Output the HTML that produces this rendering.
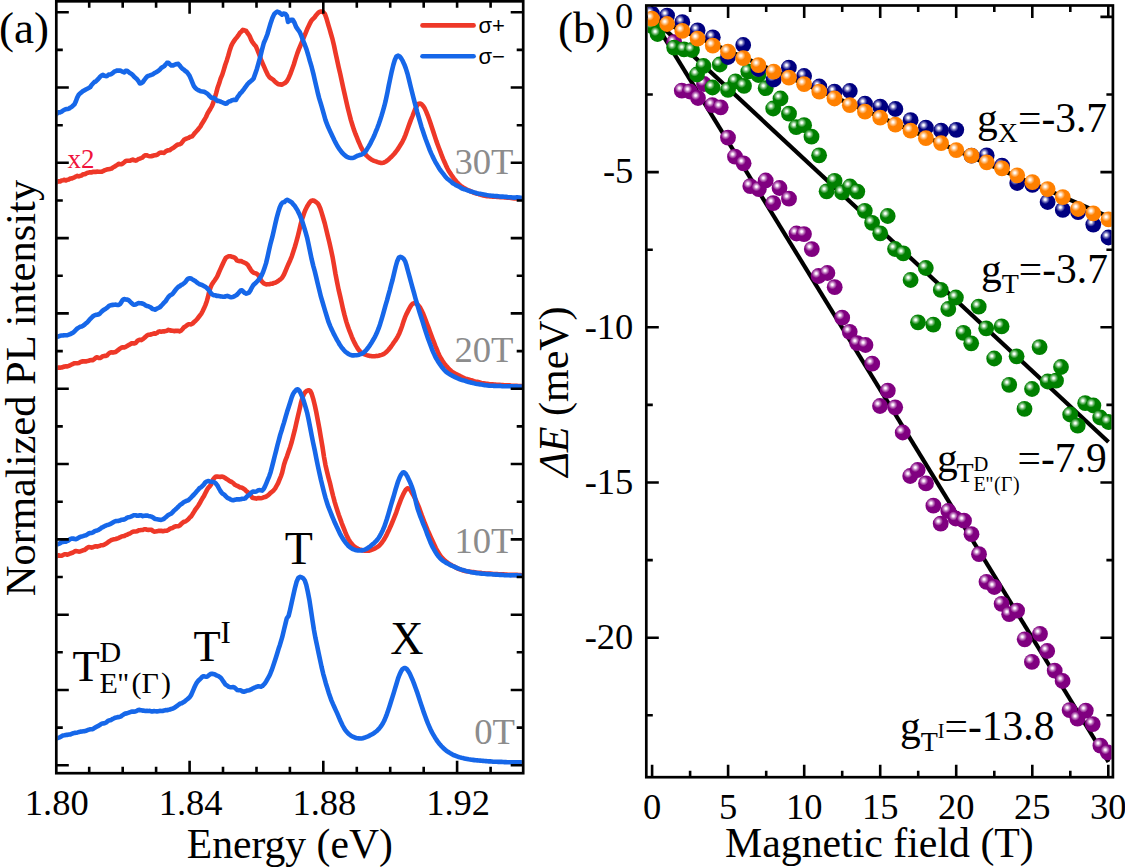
<!DOCTYPE html>
<html><head><meta charset="utf-8"><title>Figure</title>
<style>html,body{margin:0;padding:0;background:#fff;}svg{display:block;font-family:"Liberation Serif",serif;}</style>
</head><body>
<svg width="1125" height="867" viewBox="0 0 1125 867" font-family='"Liberation Serif", serif'><defs><clipPath id="cpa"><rect x="57.5" y="2.6" width="464.4" height="769.4"/></clipPath></defs>
<g fill="none" stroke-width="4.6" stroke-linejoin="round" stroke-linecap="round" clip-path="url(#cpa)">
<path d="M56.3 182.4L57.2 181.9L58.5 181.3L60.0 181.5L61.6 180.5L63.1 180.2L64.5 179.8L65.9 180.5L67.4 179.7L68.8 179.4L70.2 178.6L71.6 178.5L73.1 177.9L74.5 177.3L75.9 176.5L77.3 175.9L78.8 176.4L80.2 175.9L81.6 175.5L83.0 174.4L84.4 174.3L85.9 173.8L87.3 172.7L88.7 172.6L90.1 172.3L91.6 172.4L93.0 171.7L94.4 171.9L95.8 171.9L97.2 171.6L98.7 171.7L100.1 171.7L101.5 171.8L102.9 171.2L104.4 170.4L105.8 169.9L107.2 169.4L108.6 169.3L110.0 168.9L111.5 168.6L112.9 167.5L114.3 166.8L115.7 165.8L117.2 165.0L118.6 163.9L120.0 164.1L121.4 164.2L122.8 163.4L124.3 162.2L125.7 161.0L127.1 160.7L128.5 160.7L130.0 160.8L131.4 160.1L132.8 159.5L134.2 160.3L135.6 160.6L137.1 160.0L138.5 159.0L139.9 158.6L141.3 158.0L142.8 157.3L144.2 155.8L145.6 155.2L147.0 155.4L148.4 156.0L149.9 156.2L151.3 156.1L152.7 155.9L154.1 155.3L155.6 155.2L157.0 154.8L158.4 153.8L159.8 152.7L161.2 152.6L162.7 152.8L164.1 152.9L165.5 151.6L166.9 150.8L168.4 150.3L169.8 150.1L171.2 149.0L172.6 148.3L174.0 147.3L175.5 146.2L176.9 145.0L178.3 144.5L179.7 144.3L181.2 143.5L182.6 141.6L184.0 139.8L185.5 139.0L187.1 138.4L188.7 137.9L190.1 136.8L191.1 136.7L192.2 136.3L193.2 135.1L194.5 133.4L196.0 131.8L197.6 130.0L199.1 128.1L200.5 126.3L201.8 123.9L203.2 121.7L204.6 119.5L206.0 117.0L207.4 113.8L208.9 111.3L210.3 109.0L211.7 106.5L212.9 103.8L214.6 98.5L216.1 93.4L217.5 88.1L219.1 83.6L220.6 78.7L222.2 74.9L223.7 70.1L225.2 65.0L226.8 60.4L228.2 55.9L229.7 50.5L231.4 45.6L232.7 43.0L234.1 40.9L235.6 38.7L237.0 37.2L238.3 35.4L240.0 32.7L241.5 31.4L242.9 29.9L244.5 30.3L246.2 31.0L247.5 33.0L248.9 34.8L250.0 36.9L251.1 39.6L252.3 41.9L254.0 44.2L255.8 46.2L257.5 50.1L259.2 54.4L261.0 59.6L262.7 63.6L264.4 67.4L266.1 71.3L267.9 75.0L269.6 77.3L271.3 78.5L273.1 79.6L274.8 81.5L276.5 82.9L278.2 84.2L280.0 84.4L281.7 84.6L283.4 83.8L285.2 82.9L286.9 81.1L288.6 78.1L290.3 74.1L292.1 69.3L293.8 64.5L295.5 58.9L297.3 53.4L299.0 48.9L300.7 44.8L302.4 40.8L304.2 36.4L305.9 32.3L307.6 28.2L309.4 24.4L311.1 21.1L312.8 19.1L314.6 17.3L316.1 15.2L317.8 13.3L319.2 12.1L320.4 11.5L321.5 11.5L323.1 11.9L324.9 14.0L326.6 18.8L328.4 25.1L329.7 29.4L331.0 34.0L332.5 39.2L334.0 45.5L335.5 52.8L337.1 60.0L338.6 67.0L340.2 73.8L341.7 80.8L343.2 87.8L344.8 94.8L346.3 101.5L347.8 107.9L349.4 114.2L350.9 120.1L352.4 125.0L353.8 129.4L355.5 134.0L356.8 137.1L358.1 140.5L359.6 143.9L361.0 147.1L362.5 149.8L363.8 152.1L365.2 154.1L366.6 155.6L368.0 156.9L369.4 158.1L370.8 159.1L372.2 160.0L373.5 160.6L374.9 161.1L376.3 161.5L377.7 162.1L379.1 162.5L380.5 162.9L381.8 163.0L383.2 162.8L384.6 162.2L386.0 161.5L387.4 160.4L388.8 159.2L390.2 157.9L391.5 156.7L392.9 155.2L394.3 153.7L395.7 152.0L397.1 150.1L398.5 148.1L399.8 146.0L401.2 143.8L402.6 141.3L404.0 138.5L405.4 135.1L406.8 131.2L408.2 127.3L409.6 123.4L410.9 119.9L412.5 116.0L414.0 112.1L415.4 108.7L416.7 106.2L418.5 103.7L420.2 103.5L421.6 104.3L423.2 106.1L424.8 108.6L426.2 111.6L427.7 115.3L429.4 120.1L430.6 123.6L432.0 127.7L433.4 132.0L434.9 136.6L436.3 140.9L437.7 144.8L439.1 148.5L440.5 152.1L441.8 155.7L443.2 159.1L444.6 162.2L445.9 165.2L447.2 168.0L448.6 170.7L450.2 173.1L451.3 174.8L452.6 176.6L453.8 178.3L455.1 180.0L456.5 181.7L457.9 183.3L459.4 184.7L460.7 185.8L462.1 186.8L463.4 187.6L464.9 188.5L466.3 189.3L467.8 190.0L469.4 190.7L470.9 191.4L472.2 192.0L473.5 192.6L474.8 193.0L476.1 193.4L477.4 193.7L478.8 194.2L480.2 194.6L481.7 195.1L483.2 195.4L484.8 195.7L486.0 195.9L487.3 196.2L488.7 196.3L490.1 196.4L491.5 196.5L492.9 196.7L494.3 196.7L495.8 196.7L497.3 196.9L498.8 197.0L500.3 197.2L501.7 197.3L503.2 197.3L504.7 197.4L506.2 197.5L507.8 197.8L509.4 197.8L511.1 198.0L512.7 198.2L514.4 198.4L516.0 198.4L517.5 198.4L518.9 198.6L520.2 198.8L521.4 198.8L522.4 198.8L523.2 198.9" stroke="#ee3828"/>
<path d="M56.3 114.3L57.2 113.1L58.5 112.4L60.0 112.4L61.6 111.7L63.1 110.5L64.6 109.7L66.1 109.1L67.6 109.0L69.0 108.6L70.2 107.7L71.9 106.8L73.2 105.4L74.5 104.3L75.9 101.2L77.2 97.6L78.8 94.6L80.0 93.5L81.4 92.4L82.9 91.1L84.4 90.4L85.8 89.5L87.3 88.7L88.7 88.0L90.2 87.1L91.6 85.0L93.0 83.5L94.4 82.0L95.8 81.5L97.2 80.0L98.6 78.6L100.1 76.7L101.5 75.6L103.0 74.9L104.4 75.8L105.8 76.1L107.2 75.9L108.6 74.6L110.0 74.5L111.4 74.1L112.8 72.9L114.2 71.7L115.7 71.1L117.2 70.5L118.6 70.6L120.2 70.5L121.7 71.3L123.1 71.9L124.3 72.4L125.7 70.9L127.1 70.7L128.3 71.7L129.6 72.9L131.2 73.7L132.7 75.0L134.2 76.8L135.6 78.0L137.1 79.3L138.5 81.2L139.9 83.4L141.3 83.2L142.8 82.1L144.2 80.1L145.6 78.3L147.0 76.6L148.4 75.9L149.9 75.4L151.3 74.8L152.7 74.3L154.1 73.3L155.6 72.5L157.0 71.7L158.5 70.8L159.9 69.6L161.3 67.8L162.7 67.2L164.2 66.2L165.6 64.6L167.0 62.9L168.4 62.7L169.8 64.3L171.3 65.5L172.7 65.5L174.0 65.0L175.6 64.3L176.9 64.0L178.3 63.9L179.7 65.5L181.1 67.3L182.6 68.8L183.9 69.7L185.3 71.0L186.8 72.0L188.3 73.9L189.7 76.1L191.2 79.7L192.6 83.1L194.0 86.3L195.4 88.0L196.6 89.1L198.2 90.1L199.5 90.7L200.9 91.3L202.4 91.5L203.9 91.7L205.3 92.3L206.8 93.3L208.3 94.5L209.7 96.2L211.2 97.7L212.4 97.9L213.8 97.8L214.9 98.6L216.0 99.7L217.5 100.9L218.6 100.8L219.9 101.3L221.2 101.9L222.6 102.5L224.0 103.1L225.4 103.7L226.8 103.5L228.1 102.0L229.4 101.4L230.7 101.1L232.0 100.2L233.4 99.9L234.7 99.8L236.0 99.9L237.4 97.2L238.8 95.5L240.2 93.4L241.6 92.3L242.9 90.4L244.1 89.0L245.2 87.3L247.2 84.6L248.7 82.9L250.0 81.9L251.8 80.3L253.5 78.6L255.2 73.9L256.9 68.9L258.6 62.8L260.4 56.4L262.1 49.3L263.8 43.0L265.6 38.9L267.3 34.5L269.0 28.7L270.7 22.9L272.4 18.0L274.2 14.1L275.7 12.6L277.2 11.6L278.8 12.1L280.4 13.4L282.0 14.6L283.4 13.5L285.4 14.0L286.9 16.0L288.0 21.9L289.4 20.9L291.1 19.8L292.7 19.8L294.5 22.8L296.1 26.9L297.8 29.4L299.6 31.8L301.3 35.6L303.0 40.3L304.8 44.7L306.5 49.4L308.2 55.0L309.9 61.2L311.7 67.2L313.4 73.9L315.2 81.7L316.9 89.0L318.1 94.2L319.2 98.4L320.9 103.9L322.2 108.4L323.9 114.4L325.5 120.1L327.0 124.1L328.4 127.6L330.2 131.4L331.4 134.0L332.8 136.9L334.2 140.0L335.7 142.9L337.1 145.5L338.5 147.7L339.8 149.7L341.2 151.5L342.6 153.2L344.0 154.6L345.4 155.8L346.8 156.7L348.2 157.4L349.5 157.8L350.9 158.0L352.3 158.0L353.7 157.7L355.1 157.1L356.5 156.3L357.8 155.6L359.2 155.2L360.6 154.8L362.0 154.3L363.4 153.5L364.8 152.3L366.2 150.5L367.5 148.4L368.9 146.1L370.3 143.6L371.7 140.8L373.1 138.0L374.5 135.0L375.8 131.7L377.2 128.3L378.6 124.6L380.0 120.5L381.5 115.9L382.9 111.1L384.3 106.2L385.5 101.4L387.2 93.6L388.7 85.8L390.2 78.6L391.7 71.6L393.3 65.0L394.8 60.0L396.5 56.3L398.2 55.6L399.7 56.5L401.3 58.5L402.8 61.2L404.3 64.4L405.8 68.4L407.5 73.8L408.8 78.9L410.2 84.7L411.7 90.7L413.2 96.8L414.5 101.8L415.9 107.1L417.3 112.4L418.8 117.5L420.2 122.4L421.5 126.9L422.9 131.1L424.3 135.3L425.7 139.3L427.1 143.0L428.5 146.6L429.8 150.1L431.2 153.4L432.6 156.4L434.0 159.2L435.3 161.8L436.7 164.2L438.0 166.4L439.4 168.7L440.9 170.9L442.1 172.4L443.3 173.9L444.6 175.6L445.9 177.2L447.3 178.7L448.7 179.8L450.2 181.0L451.5 182.0L452.8 183.2L454.2 184.0L455.6 185.0L457.1 185.6L458.6 186.4L460.1 187.3L461.7 188.3L463.0 188.9L464.3 189.3L465.6 189.6L467.0 190.1L468.3 190.7L469.7 191.2L471.1 191.5L472.6 191.9L474.1 192.4L475.5 192.8L476.8 193.2L477.9 193.5L479.1 193.7L480.2 193.8L481.3 194.1L482.5 194.3L483.8 194.5L485.1 194.7L486.5 195.0L488.1 195.3L489.8 195.5L491.7 195.7L492.8 195.8L494.0 196.0L495.3 196.1L496.7 196.1L498.1 196.3L499.6 196.5L501.2 196.6L502.8 196.6L504.4 196.7L506.0 196.9L507.6 197.1L509.3 197.2L510.9 197.3L512.4 197.5L514.0 197.6L515.4 197.5L516.8 197.4L518.2 197.4L519.4 197.6L520.5 197.8L521.5 197.9L522.4 198.0L523.2 198.1" stroke="#1667e9"/>
<path d="M56.3 367.8L57.2 367.7L58.5 367.5L60.0 367.6L61.6 367.5L63.1 367.0L64.5 366.5L65.9 366.4L67.4 366.4L68.8 365.9L70.2 365.2L71.6 364.5L73.1 363.8L74.5 363.2L75.9 363.3L77.3 363.2L78.8 363.0L80.2 362.2L81.6 361.6L83.0 361.4L84.4 361.3L85.9 361.4L87.3 361.1L88.7 360.7L90.1 360.3L91.6 360.0L93.0 360.1L94.4 358.9L95.8 357.7L97.2 357.2L98.7 358.0L100.1 358.0L101.5 357.2L102.9 356.2L104.4 355.9L105.8 355.9L107.2 355.3L108.6 353.6L110.0 352.7L111.5 352.3L112.9 352.6L114.3 352.2L115.7 351.9L117.2 350.7L118.6 349.8L120.0 348.6L121.4 347.7L122.8 347.2L124.3 347.4L125.7 346.8L127.1 346.0L128.5 345.1L130.0 344.4L131.4 343.4L132.8 343.2L134.2 343.4L135.6 343.1L137.1 341.2L138.5 340.2L139.9 339.8L141.3 340.1L142.8 339.1L144.2 338.0L145.6 336.7L147.0 335.5L148.4 334.7L149.9 334.6L151.3 334.4L152.7 333.9L154.1 333.4L155.6 333.6L157.0 333.0L158.4 331.8L159.8 331.4L161.2 331.8L162.7 331.4L164.1 331.4L165.5 331.1L166.9 330.7L168.4 329.9L169.8 330.4L171.2 330.6L172.6 330.8L174.0 331.1L175.5 330.9L176.9 330.9L178.3 330.8L179.7 331.4L181.2 330.5L182.6 329.0L184.0 327.3L185.4 326.5L186.8 325.4L188.3 324.3L189.7 324.3L191.1 324.4L192.6 323.5L194.1 322.0L195.6 320.7L197.0 319.2L198.2 317.7L199.9 315.5L201.2 313.9L202.5 311.5L203.9 308.6L205.4 305.1L206.8 301.2L208.0 296.9L209.1 291.9L210.6 287.2L211.8 284.6L213.2 282.4L214.6 280.5L216.1 278.3L217.5 275.9L218.9 272.5L220.3 269.4L221.7 266.3L223.1 263.2L224.5 260.3L225.8 257.9L227.2 257.0L228.6 256.3L230.0 256.3L231.4 256.6L232.8 257.0L234.2 257.4L235.5 258.4L236.9 260.4L238.3 261.0L239.7 261.1L241.1 261.0L242.5 261.9L243.8 262.4L245.2 263.0L246.6 263.8L248.0 265.2L249.4 267.6L250.8 269.8L252.2 271.7L253.6 272.7L255.0 273.1L256.5 273.7L257.8 274.6L259.1 276.6L260.5 279.1L261.7 281.4L263.7 283.2L264.8 283.9L266.2 284.4L267.7 284.3L269.3 284.2L270.9 283.8L272.5 283.6L274.0 282.9L275.2 282.7L277.0 281.7L278.6 280.7L280.0 279.7L281.2 278.6L282.2 277.6L284.0 274.5L285.3 271.5L287.0 267.4L288.6 263.8L290.2 260.2L291.7 256.6L293.2 252.1L294.8 247.0L296.3 241.8L297.8 236.3L299.4 229.9L300.9 223.3L302.5 217.9L304.0 213.4L305.5 209.7L307.1 206.5L308.4 204.3L309.9 202.2L311.4 200.7L312.8 200.4L314.3 200.8L315.8 201.9L317.3 203.0L318.6 204.7L320.2 208.2L321.7 212.9L323.2 218.0L324.8 223.5L326.3 229.7L327.8 236.1L329.4 242.5L330.9 249.3L332.5 256.7L334.0 265.1L335.5 274.0L337.1 282.3L338.6 289.6L340.2 296.4L341.7 303.0L343.1 309.4L344.6 315.4L346.3 321.6L347.5 325.4L348.9 329.3L350.4 333.1L351.8 336.8L353.2 340.0L354.6 342.9L355.9 345.4L357.2 347.6L358.6 349.7L360.2 351.6L361.4 352.8L362.6 353.5L363.9 354.1L365.3 354.6L366.7 355.1L368.0 355.5L369.4 355.9L370.7 356.0L372.1 356.2L373.5 356.2L374.8 356.2L376.1 356.0L377.4 355.9L378.6 355.7L380.1 355.3L381.6 354.9L382.9 354.4L384.2 353.7L385.5 352.7L386.9 351.5L388.3 350.0L389.7 348.3L391.1 346.5L392.5 344.5L393.8 342.5L395.2 340.6L396.6 338.5L398.0 336.1L399.4 333.2L400.8 329.7L402.2 325.8L403.5 321.6L404.9 317.7L406.3 314.4L407.7 311.6L409.1 308.9L410.5 306.4L411.8 304.5L413.2 303.4L414.6 303.1L416.0 303.6L417.4 304.5L418.8 305.9L420.2 307.7L421.5 310.2L422.9 313.2L424.3 316.7L425.7 320.4L427.1 324.0L428.5 327.5L429.8 331.2L431.2 335.0L432.6 338.7L434.0 342.3L435.3 345.8L436.7 349.2L438.0 352.4L439.4 355.5L440.9 358.3L442.1 360.3L443.3 362.2L444.6 363.9L445.9 365.5L447.3 367.1L448.7 368.7L450.2 370.1L451.5 371.2L452.8 372.2L454.2 373.1L455.6 373.9L457.1 374.6L458.6 375.3L460.1 376.1L461.7 376.9L463.0 377.5L464.3 378.1L465.6 378.6L467.0 379.0L468.3 379.4L469.7 379.8L471.1 380.3L472.6 380.6L474.1 381.1L475.5 381.5L476.8 381.8L477.9 381.9L479.1 382.2L480.2 382.6L481.3 383.0L482.5 383.3L483.8 383.4L485.1 383.5L486.5 383.7L488.1 383.9L489.8 384.2L491.7 384.4L492.8 384.4L494.0 384.5L495.3 384.6L496.7 384.7L498.1 384.8L499.6 384.9L501.2 385.0L502.8 385.1L504.4 385.2L506.0 385.2L507.6 385.3L509.3 385.4L510.9 385.6L512.4 385.7L514.0 385.7L515.4 385.8L516.8 385.9L518.2 386.0L519.4 386.1L520.5 386.0L521.5 386.1L522.4 386.1L523.2 386.2" stroke="#ee3828"/>
<path d="M56.3 336.4L57.2 336.7L58.5 336.4L60.0 335.8L61.6 335.5L63.1 335.4L64.5 335.2L65.9 335.3L67.4 335.2L68.8 334.7L70.2 334.1L71.6 333.4L73.1 332.7L74.5 331.3L75.9 329.9L77.3 328.5L78.8 327.6L80.2 326.8L81.6 326.5L83.0 325.7L84.4 324.8L85.9 323.4L87.3 322.4L88.7 320.7L90.1 319.1L91.6 317.6L93.0 316.3L94.4 315.4L95.8 314.9L97.2 314.8L98.7 314.3L100.1 313.3L101.5 311.8L102.9 310.5L104.4 309.5L105.8 308.7L107.2 307.7L108.6 306.3L110.0 305.4L111.5 305.1L112.9 304.9L114.4 304.7L115.9 304.6L117.4 305.0L118.8 304.9L120.0 304.1L121.4 302.1L122.5 300.2L123.6 299.2L124.6 299.1L125.7 299.5L127.1 299.6L128.3 299.9L129.7 301.2L131.2 302.8L132.7 304.1L134.2 304.8L135.6 304.5L137.1 303.7L138.5 303.0L139.9 303.2L141.3 303.2L142.8 303.7L144.2 304.3L145.7 305.5L147.1 306.1L148.4 306.3L149.9 307.0L151.2 307.8L152.5 309.0L154.1 309.3L155.4 309.7L156.8 308.7L158.3 308.0L159.8 307.2L161.3 305.8L162.7 304.3L164.2 302.5L165.6 301.3L167.0 299.0L168.4 297.0L169.8 295.6L171.2 294.8L172.6 293.8L174.0 292.0L175.5 290.0L176.9 288.3L178.3 286.9L179.8 286.1L181.3 284.9L182.7 284.3L184.0 283.3L185.5 281.9L186.8 280.0L188.1 278.7L189.7 278.2L191.0 278.5L192.4 279.4L193.9 280.3L195.4 281.1L196.8 282.4L198.2 283.4L199.7 284.3L201.2 284.7L202.6 285.3L203.9 286.1L205.3 286.8L206.8 288.0L208.4 289.5L209.9 291.7L211.3 293.6L212.4 294.5L213.7 295.2L215.2 295.3L216.2 295.9L217.4 295.7L218.7 296.0L220.2 296.4L221.6 296.5L223.1 296.7L224.5 296.8L225.8 296.2L227.2 295.9L228.5 296.3L229.9 296.9L231.2 297.2L232.5 297.0L233.7 296.6L235.2 295.8L236.6 295.0L238.0 293.6L239.3 292.0L240.6 290.6L242.0 290.3L243.4 291.7L244.8 293.0L246.2 293.6L247.5 293.2L248.9 292.6L250.3 290.6L251.7 287.8L253.1 285.4L254.5 283.9L255.9 282.7L257.3 281.2L258.8 279.6L260.1 277.9L261.4 275.8L263.1 272.0L264.5 268.0L266.0 263.4L267.5 257.1L269.1 249.8L270.6 243.3L272.2 237.4L273.7 231.0L275.2 224.2L276.7 217.9L278.2 212.4L279.8 207.2L281.3 204.0L282.8 202.4L284.3 202.1L285.6 200.7L287.2 199.8L288.6 200.5L290.0 201.4L291.6 202.2L293.2 204.2L294.8 206.1L296.3 208.4L297.8 210.9L299.4 214.2L300.9 217.9L302.5 222.1L304.0 226.9L305.5 231.8L307.1 237.6L308.6 244.5L310.2 252.3L311.7 259.4L313.2 265.6L314.8 271.4L316.3 277.6L317.8 284.0L319.4 290.5L320.9 296.7L322.5 302.0L324.0 307.1L325.5 312.1L327.0 317.0L328.4 321.6L330.2 326.1L331.4 328.9L332.8 331.7L334.2 334.7L335.7 337.5L337.1 340.1L338.5 342.4L339.8 344.8L341.2 346.8L342.6 348.6L344.0 350.2L345.4 351.7L346.8 352.8L348.2 353.7L349.5 354.5L350.9 355.1L352.3 355.4L353.7 355.4L355.1 355.3L356.5 355.2L357.8 355.0L359.2 354.7L360.6 354.2L362.0 353.6L363.4 352.7L364.8 351.6L366.2 350.2L367.5 348.5L368.9 346.6L370.3 344.6L371.7 342.4L373.1 340.0L374.5 337.6L375.8 335.0L377.2 332.0L378.6 328.4L380.0 324.4L381.4 319.9L382.8 315.1L384.2 310.2L385.5 305.4L387.0 300.4L388.4 295.1L389.9 289.8L391.2 284.6L392.5 280.0L394.2 272.8L395.7 266.5L397.1 261.5L398.8 257.7L400.5 256.9L402.0 257.4L403.6 258.8L405.2 261.4L406.6 265.8L408.1 271.5L409.8 277.7L411.1 282.5L412.5 287.6L414.0 292.9L415.5 298.5L416.8 303.0L418.2 307.6L419.6 312.3L421.1 317.0L422.5 321.4L423.8 325.7L425.2 330.1L426.6 334.4L428.0 338.5L429.4 342.3L430.7 345.8L432.0 349.3L433.4 352.6L434.8 355.6L436.3 358.6L437.5 360.5L438.7 362.5L440.0 364.4L441.3 366.3L442.7 368.1L444.1 369.7L445.5 371.2L446.9 372.4L448.3 373.4L449.7 374.3L451.2 375.1L452.6 375.9L454.1 376.6L455.6 377.4L457.1 378.0L458.5 378.7L460.0 379.4L461.4 379.9L462.8 380.3L464.3 380.6L465.7 381.0L467.2 381.6L468.6 382.0L470.1 382.4L471.5 382.6L472.9 383.0L474.4 383.4L475.8 383.8L477.3 384.0L478.7 384.1L480.2 384.4L481.5 384.6L482.6 384.8L483.6 385.0L484.7 385.1L485.9 385.2L487.4 385.4L489.3 385.6L491.7 385.7L492.7 385.8L493.8 385.9L495.1 385.9L496.4 386.0L497.8 386.0L499.3 386.0L500.8 385.9L502.4 386.2L504.0 386.3L505.7 386.3L507.3 386.2L509.0 386.2L510.6 386.3L512.2 386.4L513.8 386.5L515.3 386.4L516.7 386.4L518.1 386.5L519.3 386.5L520.5 386.6L521.5 386.6L522.4 386.6L523.2 386.6" stroke="#1667e9"/>
<path d="M56.3 556.6L57.2 555.8L58.5 555.3L60.0 555.7L61.6 555.8L63.1 555.0L64.5 554.3L65.9 554.3L67.4 554.7L68.8 554.1L70.2 553.5L71.6 553.0L73.1 552.5L74.5 551.5L75.9 551.0L77.3 551.2L78.8 551.6L80.2 551.5L81.6 550.9L83.0 550.3L84.4 550.0L85.9 549.0L87.3 547.7L88.7 547.0L90.1 547.2L91.6 547.6L93.0 547.2L94.4 546.7L95.8 546.2L97.2 546.6L98.7 546.1L100.1 545.7L101.5 545.2L102.9 545.2L104.4 544.6L105.8 543.8L107.2 542.9L108.6 541.8L110.0 540.9L111.5 540.0L112.9 539.6L114.3 539.3L115.7 539.0L117.2 538.5L118.6 538.1L120.0 537.3L121.4 536.7L122.8 536.2L124.3 536.0L125.7 535.1L127.1 534.7L128.5 533.9L130.0 533.5L131.4 532.5L132.8 531.8L134.2 531.5L135.6 531.5L137.1 531.3L138.5 530.4L139.9 530.2L141.3 530.0L142.8 530.0L144.2 529.3L145.6 529.3L147.0 529.7L148.4 529.9L149.9 529.7L151.3 529.8L152.7 530.7L154.1 531.6L155.6 531.5L157.0 531.3L158.4 530.8L159.8 530.9L161.2 530.8L162.7 531.2L164.1 530.9L165.5 530.8L166.9 530.7L168.4 530.0L169.8 528.9L171.2 528.2L172.6 527.9L174.0 527.0L175.5 526.4L176.9 526.3L178.3 526.3L179.7 525.5L181.2 524.0L182.6 522.7L184.0 521.8L185.4 521.5L186.8 520.5L188.3 519.3L189.7 517.6L191.1 516.4L192.5 514.3L194.0 511.9L195.4 509.5L196.8 507.8L198.2 505.7L199.7 503.3L201.1 500.7L202.6 498.1L204.0 495.9L205.3 493.3L206.9 490.1L208.5 487.6L209.9 486.1L211.0 484.7L212.9 479.7L214.3 478.0L215.9 476.5L217.5 476.6L219.0 476.7L220.4 476.9L222.2 476.6L223.4 477.0L224.8 477.8L226.2 478.7L227.7 479.7L229.1 480.7L230.5 481.5L231.8 482.0L233.2 483.0L234.6 484.6L236.0 485.3L237.4 485.9L238.8 486.6L240.2 487.5L241.5 487.5L242.9 488.3L244.4 489.2L245.9 490.7L247.4 492.0L248.8 492.9L249.8 493.3L251.0 495.6L252.2 497.7L253.3 497.9L254.7 498.2L256.3 498.6L257.8 498.1L259.1 498.1L260.7 498.2L262.1 498.0L263.7 497.3L265.0 497.0L266.4 496.5L267.9 495.4L269.3 494.3L270.6 492.8L272.2 491.6L273.6 490.4L275.2 488.4L276.5 486.0L278.1 483.1L279.6 479.3L281.1 475.8L282.2 472.6L284.0 464.8L285.3 460.7L287.0 456.3L288.6 451.6L290.2 446.9L291.7 442.0L293.2 436.2L294.8 429.9L296.3 423.3L297.8 416.8L299.4 410.0L300.9 403.2L302.5 397.7L304.0 393.9L305.5 391.8L307.1 390.6L308.6 390.2L310.2 390.9L311.7 393.9L313.2 398.8L314.8 405.2L316.3 412.3L317.8 420.2L319.4 428.7L320.9 437.7L322.5 447.0L324.0 456.8L325.5 465.2L327.1 472.1L328.6 478.0L330.2 483.9L331.6 489.9L333.1 496.0L334.8 502.3L336.0 506.3L337.4 510.7L338.8 515.0L340.3 519.1L341.7 523.1L343.1 526.7L344.5 530.2L345.8 533.5L347.2 536.6L348.6 539.4L350.0 541.6L351.3 543.3L352.6 544.9L354.0 546.2L355.5 547.4L356.7 548.1L358.0 548.8L359.3 549.4L360.7 549.8L362.1 550.2L363.4 550.5L364.8 550.7L366.1 550.7L367.5 550.8L368.8 550.7L370.2 550.3L371.5 549.8L372.8 549.3L374.0 548.8L375.5 548.1L376.9 547.3L378.3 546.4L379.6 545.3L380.9 543.8L382.3 542.0L383.7 540.0L385.1 537.6L386.5 535.1L387.8 532.3L389.2 529.4L390.6 526.3L392.0 523.0L393.4 519.6L394.8 516.2L396.2 512.6L397.6 508.6L399.0 504.6L400.4 500.9L401.7 497.7L403.2 494.4L404.7 491.5L406.1 489.4L407.5 488.2L409.0 488.6L410.5 490.4L412.1 493.1L413.4 495.3L414.8 498.0L416.3 501.1L417.8 504.7L419.2 508.0L420.5 511.7L421.9 515.6L423.4 519.5L424.8 523.2L426.2 526.6L427.5 529.8L428.9 533.0L430.3 536.2L431.7 539.3L433.1 542.3L434.5 545.3L435.8 548.0L437.2 550.7L438.6 553.0L439.9 555.1L441.2 556.8L442.4 558.3L443.9 559.7L445.5 561.2L446.8 562.1L448.1 563.1L449.5 564.0L451.0 564.9L452.5 565.7L454.1 566.5L455.6 567.4L457.1 568.2L458.4 568.8L459.7 569.2L460.9 569.6L462.1 570.1L463.4 570.6L464.9 570.9L466.6 571.3L468.6 571.6L469.7 571.8L470.9 571.9L472.1 572.0L473.4 572.1L474.7 572.3L476.1 572.6L477.5 572.7L478.9 572.7L480.4 572.9L481.9 573.1L483.5 573.2L485.1 573.4L486.7 573.5L488.3 573.6L490.0 573.6L491.7 573.8L492.9 574.0L494.2 574.1L495.6 574.1L497.1 574.1L498.6 574.2L500.1 574.3L501.7 574.3L503.3 574.4L504.9 574.5L506.5 574.6L508.1 574.7L509.7 574.7L511.2 574.7L512.8 574.9L514.2 574.9L515.7 574.9L517.0 574.9L518.3 575.0L519.5 575.0L520.6 575.1L521.6 575.2L522.4 575.3L523.2 575.3" stroke="#ee3828"/>
<path d="M56.3 543.8L57.2 544.2L58.5 543.9L60.0 543.3L61.6 542.3L63.1 541.9L64.5 541.8L65.9 541.7L67.4 541.0L68.8 540.2L70.2 539.2L71.6 538.6L73.1 538.5L74.5 539.0L75.9 539.2L77.3 538.6L78.8 537.6L80.2 536.9L81.6 536.5L83.0 536.1L84.4 535.6L85.9 535.2L87.3 534.4L88.7 533.5L90.1 533.0L91.6 533.0L93.0 532.4L94.4 531.4L95.8 530.7L97.2 530.4L98.7 529.8L100.1 528.9L101.5 527.7L102.9 527.1L104.4 526.3L105.8 525.6L107.2 525.0L108.6 524.7L110.0 524.1L111.5 523.4L112.9 522.5L114.3 521.6L115.7 521.1L117.2 521.0L118.6 520.9L120.0 520.5L121.4 519.7L122.8 519.6L124.3 519.4L125.7 518.7L127.1 517.6L128.5 517.2L130.0 517.0L131.4 516.4L132.8 515.7L134.2 515.2L135.6 515.2L137.1 515.8L138.5 515.6L139.9 515.4L141.3 515.4L142.8 516.1L144.2 515.7L145.6 515.6L147.0 515.5L148.4 515.9L149.9 516.2L151.4 516.6L152.9 517.3L154.3 518.5L155.6 519.0L157.1 519.2L158.4 519.4L159.8 519.7L161.2 519.9L162.7 519.4L164.2 518.6L165.5 517.4L166.9 516.2L168.2 515.1L169.8 514.3L171.0 513.7L172.4 512.5L173.9 510.7L175.4 509.5L176.9 508.1L178.3 506.8L179.8 505.2L181.3 504.2L182.7 503.1L184.0 502.0L185.5 501.3L186.9 500.7L188.3 500.3L189.7 498.9L191.1 497.6L192.5 496.0L194.0 494.5L195.4 492.9L196.8 491.3L198.2 489.7L199.6 488.0L201.1 487.2L202.5 485.8L203.9 484.4L205.3 482.4L206.8 481.4L208.3 481.1L209.9 481.5L211.5 481.8L212.9 481.9L214.6 482.4L216.1 483.8L217.5 485.7L219.0 488.5L220.4 491.0L222.2 493.4L223.3 494.0L224.5 494.9L225.9 496.4L227.4 497.9L229.1 498.6L230.3 499.3L231.7 499.9L233.3 500.2L234.8 499.8L236.4 499.4L237.9 499.4L239.4 499.4L240.6 499.3L242.3 498.8L243.8 498.8L245.2 498.4L246.4 497.1L247.5 496.0L249.2 494.9L250.5 493.6L252.2 491.9L253.4 491.5L254.9 491.7L256.4 491.5L257.8 490.5L259.1 490.1L260.7 490.2L262.1 490.6L263.7 488.9L264.9 486.6L266.3 483.3L267.7 479.9L269.2 476.3L270.6 472.2L272.0 466.9L273.4 461.4L274.8 455.8L276.2 450.4L277.5 445.0L278.9 439.9L280.2 434.9L281.6 430.5L282.8 426.4L284.0 422.6L285.7 416.7L287.1 411.8L288.6 407.2L290.2 402.2L291.7 397.4L293.2 393.7L294.8 391.4L296.3 389.7L297.8 389.3L299.4 390.7L300.9 393.7L302.5 397.6L304.0 401.8L305.5 406.8L307.1 412.6L308.6 419.6L310.2 427.7L311.7 435.7L313.2 443.1L314.8 450.5L316.3 458.2L317.8 465.6L319.4 472.9L320.9 479.8L322.5 486.2L324.0 492.3L325.5 497.9L327.0 502.7L328.4 506.9L330.2 511.4L331.4 514.5L332.8 517.8L334.2 521.2L335.7 524.5L337.1 527.6L338.5 530.5L339.8 533.3L341.2 535.9L342.6 538.3L344.0 540.4L345.4 542.3L346.8 544.1L348.2 545.7L349.5 546.9L350.9 547.9L352.3 548.8L353.7 549.4L355.1 549.9L356.5 550.2L357.8 550.4L359.2 550.5L360.6 550.5L362.0 550.4L363.4 550.1L364.8 549.6L366.2 549.0L367.5 548.2L368.9 547.3L370.3 546.2L371.7 545.0L373.1 543.9L374.5 542.7L375.8 541.4L377.2 539.9L378.6 538.0L380.0 535.7L381.4 533.1L382.8 530.2L384.2 526.9L385.5 523.2L386.9 519.0L388.3 514.4L389.7 509.5L391.1 504.7L392.5 500.0L393.9 495.3L395.3 490.3L396.8 485.5L398.1 481.3L399.4 478.1L401.1 474.6L402.5 472.8L404.0 472.3L405.5 473.5L407.1 476.1L408.6 479.3L410.2 482.6L411.7 486.3L413.2 490.7L414.7 496.3L416.1 502.8L417.8 509.3L419.1 513.0L420.4 516.7L421.9 520.4L423.3 524.1L424.8 527.7L426.2 531.2L427.5 534.9L428.9 538.5L430.3 542.0L431.7 545.1L433.1 547.9L434.5 550.3L435.8 552.5L437.2 554.7L438.6 556.6L439.9 558.1L441.2 559.3L442.4 560.4L443.9 561.4L445.5 562.4L446.8 563.1L448.1 563.8L449.5 564.6L451.0 565.3L452.5 566.0L454.1 566.7L455.6 567.4L457.1 568.0L458.5 568.6L460.0 569.1L461.4 569.6L462.8 570.0L464.3 570.4L465.7 570.9L467.2 571.3L468.6 571.5L470.1 571.9L471.5 572.2L472.9 572.5L474.4 572.6L475.8 572.9L477.3 573.1L478.7 573.3L480.2 573.5L481.6 573.6L483.0 573.7L484.5 573.8L485.9 574.0L487.4 574.1L488.8 574.1L490.2 574.2L491.7 574.2L493.1 574.4L494.4 574.5L495.6 574.6L496.9 574.6L498.3 574.8L499.8 574.9L501.4 574.9L503.2 575.0L504.4 575.1L505.8 575.2L507.3 575.2L508.9 575.3L510.6 575.4L512.2 575.3L513.9 575.3L515.6 575.3L517.2 575.4L518.7 575.5L520.1 575.6L521.3 575.7L522.4 575.7L523.2 575.7" stroke="#1667e9"/>
<path d="M56.3 738.5L57.2 738.2L58.3 737.8L59.7 737.4L61.2 736.5L62.8 735.6L64.4 735.3L66.0 734.9L67.5 734.9L69.0 734.5L70.4 734.4L71.8 733.7L73.3 733.3L74.7 732.9L76.2 732.7L77.6 732.4L79.1 732.0L80.5 731.6L82.0 731.5L83.4 731.3L84.8 731.1L86.3 730.7L87.7 730.0L89.2 729.6L90.6 729.3L92.1 729.3L93.5 728.7L94.9 727.7L96.4 726.8L97.8 726.2L99.3 725.3L100.7 724.3L102.2 723.5L103.6 723.4L105.0 723.1L106.5 722.2L107.9 720.9L109.4 720.3L110.8 720.1L112.2 719.2L113.7 718.5L115.1 717.7L116.6 717.4L118.0 717.1L119.5 717.0L120.9 716.4L122.3 715.3L123.8 714.3L125.2 713.6L126.7 713.4L128.1 712.9L129.6 712.3L131.0 711.8L132.4 711.5L133.9 711.6L135.3 711.5L136.8 710.8L138.2 710.1L139.7 709.9L141.1 710.2L142.5 710.6L144.0 710.6L145.4 711.0L146.9 710.9L148.3 711.0L149.8 710.9L151.2 711.4L152.6 711.4L154.1 711.1L155.5 711.2L157.0 711.4L158.4 711.3L159.8 710.9L161.3 711.0L162.7 710.9L164.2 710.6L165.6 710.0L167.1 710.2L168.5 709.8L169.9 709.5L171.4 708.9L172.9 708.6L174.4 707.7L175.9 706.8L177.4 705.6L178.9 704.5L180.4 703.5L181.7 703.2L182.9 702.5L184.6 701.5L186.0 700.3L187.3 699.3L188.5 698.2L189.8 697.0L191.2 694.9L192.6 691.6L194.0 688.3L195.4 685.3L196.8 682.6L198.1 681.0L199.4 679.7L200.8 678.4L202.2 676.9L203.7 676.2L204.9 676.5L206.2 676.7L207.6 676.4L209.0 675.1L210.4 674.1L211.7 673.8L212.9 673.9L214.5 674.3L215.9 675.1L217.2 675.7L218.5 676.2L219.8 677.1L221.2 678.3L222.5 680.2L223.8 682.1L225.2 684.3L226.8 685.4L228.0 686.2L229.2 686.9L230.6 687.3L231.9 687.3L233.3 687.1L234.7 687.7L236.0 688.9L237.3 690.1L238.6 690.3L240.0 690.2L241.3 690.7L242.6 691.4L243.9 691.7L245.2 691.3L246.5 690.8L247.9 690.4L249.2 690.2L250.5 689.8L251.8 689.1L253.1 688.3L254.5 687.7L255.8 687.2L257.1 686.6L258.4 686.2L259.7 686.4L261.1 686.6L262.4 686.0L263.7 684.7L265.0 683.2L266.3 681.2L267.6 678.8L269.0 676.4L270.3 673.7L271.6 670.4L272.9 666.7L274.3 662.5L275.7 658.2L277.1 653.7L278.5 649.1L279.9 644.9L281.1 640.8L282.2 637.2L284.1 629.3L285.6 623.1L286.8 618.3L288.6 615.9L290.0 610.2L291.7 602.6L293.2 595.8L295.0 587.8L296.7 581.4L298.4 577.8L300.2 576.9L301.6 577.4L303.2 578.2L304.8 580.5L306.3 585.0L307.8 591.8L309.4 600.0L310.9 609.8L312.5 620.5L314.0 630.2L315.5 638.3L317.1 645.7L318.6 653.0L320.1 659.9L321.5 666.6L323.2 673.8L324.5 678.4L325.8 683.2L327.3 688.0L328.7 692.7L330.2 697.0L331.5 700.6L332.9 703.9L334.3 707.0L335.7 710.1L337.1 713.1L338.5 716.3L339.8 719.5L341.2 722.6L342.6 725.5L344.0 728.0L345.3 730.1L346.7 731.8L348.0 733.3L349.4 734.5L350.9 735.6L352.1 736.4L353.4 736.9L354.7 737.5L356.1 738.0L357.4 738.3L358.8 738.4L360.2 738.5L361.5 738.4L362.8 738.2L364.1 737.8L365.4 737.3L366.7 736.8L368.1 736.3L369.4 735.7L370.7 734.9L372.1 734.2L373.5 733.4L374.8 732.5L376.1 731.5L377.4 730.4L378.6 729.2L380.1 727.4L381.6 725.4L382.9 723.3L384.2 720.8L385.5 717.7L386.9 714.1L388.3 710.1L389.7 705.8L391.1 701.3L392.5 696.9L393.9 692.4L395.3 687.6L396.8 682.8L398.1 678.4L399.4 675.0L401.1 671.2L402.5 669.1L404.0 668.1L405.5 668.1L406.9 669.1L408.6 671.6L409.9 673.9L411.2 676.9L412.7 680.2L414.1 683.9L415.5 687.7L416.9 691.6L418.3 695.8L419.7 700.1L421.1 704.4L422.5 708.5L423.8 712.4L425.2 716.3L426.6 720.1L428.0 723.7L429.4 726.9L430.7 729.8L432.0 732.4L433.4 734.8L434.8 737.2L436.3 739.6L437.5 741.3L438.7 743.0L440.0 744.6L441.3 746.1L442.7 747.4L444.1 748.8L445.5 750.0L446.9 751.1L448.3 752.0L449.7 752.9L451.2 753.8L452.6 754.6L454.1 755.3L455.6 755.8L457.1 756.4L458.5 757.0L460.0 757.4L461.4 757.8L462.8 758.1L464.3 758.4L465.7 758.7L467.2 759.0L468.6 759.3L470.1 759.5L471.5 759.8L472.9 759.9L474.4 760.1L475.8 760.3L477.3 760.4L478.7 760.5L480.2 760.6L481.6 760.8L483.0 760.9L484.5 761.0L485.9 761.1L487.4 761.3L488.8 761.4L490.2 761.4L491.7 761.5L493.1 761.7L494.4 761.7L495.6 761.8L496.9 761.8L498.3 761.9L499.8 761.9L501.4 761.9L503.2 762.0L504.4 762.1L505.8 762.1L507.3 762.2L508.9 762.3L510.6 762.3L512.2 762.2L513.9 762.3L515.6 762.3L517.2 762.2L518.7 762.2L520.1 762.4L521.3 762.4L522.4 762.5L523.2 762.4" stroke="#1667e9"/>
</g>
<rect x="56.3" y="1.3" width="466.90000000000003" height="771.9000000000001" fill="none" stroke="#000" stroke-width="2.7"/>
<path d="M89.2 773.2v-6.5M89.2 1.3v6.5M122.7 773.2v-6.5M122.7 1.3v6.5M156.1 773.2v-6.5M156.1 1.3v6.5M189.6 773.2v-12.5M189.6 1.3v12.5M223.0 773.2v-6.5M223.0 1.3v6.5M256.5 773.2v-6.5M256.5 1.3v6.5M289.9 773.2v-6.5M289.9 1.3v6.5M323.3 773.2v-12.5M323.3 1.3v12.5M356.8 773.2v-6.5M356.8 1.3v6.5M390.2 773.2v-6.5M390.2 1.3v6.5M423.7 773.2v-6.5M423.7 1.3v6.5M457.1 773.2v-12.5M457.1 1.3v6.5M490.6 773.2v-6.5M490.6 1.3v6.5M56.3 12.2h12.5M523.2 12.2h-12.5M56.3 49.9h6.5M523.2 49.9h-6.5M56.3 87.5h12.5M523.2 87.5h-12.5M56.3 125.2h6.5M523.2 125.2h-6.5M56.3 162.8h12.5M523.2 162.8h-12.5M56.3 200.5h6.5M523.2 200.5h-6.5M56.3 238.1h12.5M523.2 238.1h-12.5M56.3 275.8h6.5M523.2 275.8h-6.5M56.3 313.4h12.5M523.2 313.4h-12.5M56.3 351.1h6.5M523.2 351.1h-6.5M56.3 388.7h12.5M523.2 388.7h-12.5M56.3 426.4h6.5M523.2 426.4h-6.5M56.3 464.0h12.5M523.2 464.0h-12.5M56.3 501.7h6.5M523.2 501.7h-6.5M56.3 539.4h12.5M523.2 539.4h-12.5M56.3 577.0h6.5M523.2 577.0h-6.5M56.3 614.7h12.5M523.2 614.7h-12.5M56.3 652.3h6.5M523.2 652.3h-6.5M56.3 690.0h12.5M523.2 690.0h-12.5M56.3 727.6h6.5M523.2 727.6h-6.5M56.3 765.3h12.5M523.2 765.3h-12.5" stroke="#000" stroke-width="2.6" fill="none"/>
<text x="-1" y="42.5" font-size="45" text-anchor="start" fill="#000" >(a)</text>
<text transform="translate(35.1,388) rotate(-90)" font-size="42.5" text-anchor="middle">Normalized PL intensity</text>
<text x="56.8" y="815" font-size="36.5" text-anchor="middle" fill="#000" >1.80</text>
<text x="190.572" y="815" font-size="36.5" text-anchor="middle" fill="#000" >1.84</text>
<text x="324.344" y="815" font-size="36.5" text-anchor="middle" fill="#000" >1.88</text>
<text x="458.116" y="815" font-size="36.5" text-anchor="middle" fill="#000" >1.92</text>
<text x="289.8" y="858" font-size="41.6" text-anchor="middle" fill="#000" >Energy (eV)</text>
<path d="M422.5 25.4H473.6" stroke="#ee3828" stroke-width="4.6" stroke-linecap="round"/>
<path d="M422.5 56.3H473.6" stroke="#1667e9" stroke-width="4.6" stroke-linecap="round"/>
<text x="478.5" y="33" font-size="22" font-family="Liberation Sans, sans-serif">σ+</text>
<text x="478.5" y="63.7" font-size="22" font-family="Liberation Sans, sans-serif">σ−</text>
<text x="67.5" y="168" font-size="27" text-anchor="start" fill="#f0143c" >x2</text>
<text x="513.5" y="173.7" font-size="36.7" text-anchor="end" fill="#8c8c8c" >30T</text>
<text x="513.5" y="362" font-size="36.7" text-anchor="end" fill="#8c8c8c" >20T</text>
<text x="513.5" y="553.2" font-size="36.7" text-anchor="end" fill="#8c8c8c" >10T</text>
<text x="515" y="743.5" font-size="36.7" text-anchor="end" fill="#8c8c8c" >0T</text>
<text x="298.9" y="563.6" font-size="46" text-anchor="middle" fill="#000" >T</text>
<text x="406.8" y="653.7" font-size="46" text-anchor="middle" fill="#000" >X</text>
<text x="193.5" y="660.7" font-size="44.5">T<tspan x="220.5" y="642.6" font-size="31">I</tspan></text>
<text x="72.5" y="680.6" font-size="44.5">T<tspan x="99.5" y="662" font-size="30">D</tspan><tspan x="99.5" y="692.8" font-size="30">E''</tspan><tspan font-size="30" dx="2.8">(Γ</tspan><tspan font-size="30" dx="2.3">)</tspan></text>
<path d="M652.1 777.2v-12.5M652.1 5.5v12.5M690.1 777.2v-6.5M690.1 5.5v6.5M728.1 777.2v-12.5M728.1 5.5v12.5M766.2 777.2v-6.5M766.2 5.5v6.5M804.2 777.2v-12.5M804.2 5.5v12.5M842.2 777.2v-6.5M842.2 5.5v6.5M880.2 777.2v-12.5M880.2 5.5v12.5M918.2 777.2v-6.5M918.2 5.5v6.5M956.2 777.2v-12.5M956.2 5.5v12.5M994.3 777.2v-6.5M994.3 5.5v6.5M1032.3 777.2v-12.5M1032.3 5.5v12.5M1070.3 777.2v-6.5M1070.3 5.5v6.5M1108.3 777.2v-12.5M1108.3 5.5v12.5M646.3 16.9h12.5M1112.9 16.9h-12.5M646.3 94.5h6.5M1112.9 94.5h-6.5M646.3 172.1h12.5M1112.9 172.1h-12.5M646.3 249.7h6.5M1112.9 249.7h-6.5M646.3 327.3h12.5M1112.9 327.3h-12.5M646.3 404.9h6.5M1112.9 404.9h-6.5M646.3 482.5h12.5M1112.9 482.5h-12.5M646.3 560.1h6.5M1112.9 560.1h-6.5M646.3 637.7h12.5M1112.9 637.7h-12.5M646.3 715.3h6.5M1112.9 715.3h-6.5" stroke="#000" stroke-width="2.6" fill="none"/>
<g clip-path="url(#cpb)">
<path d="M651.9 17.4L1108.5 216.6" stroke="#000" stroke-width="4.2" stroke-linecap="butt"/>
<path d="M651.9 17.4L1108.5 442.0" stroke="#000" stroke-width="4.2" stroke-linecap="butt"/>
<path d="M651.9 17.4L1108.5 762.0" stroke="#000" stroke-width="4.2" stroke-linecap="butt"/>
<defs>
<clipPath id="cpb"><rect x="647.6" y="6.8" width="464" height="769"/></clipPath>
<radialGradient id="gN" cx="0.35" cy="0.34" r="0.29"><stop offset="0" stop-color="#fff"/><stop offset="0.18" stop-color="#fafaff"/><stop offset="0.55" stop-color="#7a7abf"/><stop offset="1" stop-color="#000080"/></radialGradient>
<radialGradient id="gO" cx="0.35" cy="0.34" r="0.29"><stop offset="0" stop-color="#fff"/><stop offset="0.18" stop-color="#fffaf5"/><stop offset="0.55" stop-color="#ffc080"/><stop offset="1" stop-color="#ff8000"/></radialGradient>
<radialGradient id="gG" cx="0.35" cy="0.34" r="0.29"><stop offset="0" stop-color="#fff"/><stop offset="0.18" stop-color="#f5fff5"/><stop offset="0.55" stop-color="#7abf7a"/><stop offset="1" stop-color="#008000"/></radialGradient>
<radialGradient id="gP" cx="0.35" cy="0.34" r="0.29"><stop offset="0" stop-color="#fff"/><stop offset="0.18" stop-color="#fff5ff"/><stop offset="0.55" stop-color="#bf7abf"/><stop offset="1" stop-color="#800080"/></radialGradient>
</defs>
<circle cx="674.2" cy="42.2" r="7.9" fill="url(#gP)"/>
<circle cx="681.8" cy="90.7" r="7.9" fill="url(#gP)"/>
<circle cx="689.9" cy="91.5" r="7.9" fill="url(#gP)"/>
<circle cx="698.0" cy="98.0" r="7.9" fill="url(#gP)"/>
<circle cx="704.0" cy="84.0" r="7.9" fill="url(#gP)"/>
<circle cx="712.3" cy="105.1" r="7.9" fill="url(#gP)"/>
<circle cx="720.7" cy="107.3" r="7.9" fill="url(#gP)"/>
<circle cx="728.0" cy="137.6" r="7.9" fill="url(#gP)"/>
<circle cx="735.0" cy="156.7" r="7.9" fill="url(#gP)"/>
<circle cx="743.6" cy="163.3" r="7.9" fill="url(#gP)"/>
<circle cx="750.3" cy="186.1" r="7.9" fill="url(#gP)"/>
<circle cx="758.8" cy="189.2" r="7.9" fill="url(#gP)"/>
<circle cx="765.7" cy="180.5" r="7.9" fill="url(#gP)"/>
<circle cx="773.2" cy="203.2" r="7.9" fill="url(#gP)"/>
<circle cx="779.5" cy="188.0" r="7.9" fill="url(#gP)"/>
<circle cx="789.0" cy="198.7" r="7.9" fill="url(#gP)"/>
<circle cx="796.5" cy="233.5" r="7.9" fill="url(#gP)"/>
<circle cx="804.0" cy="234.1" r="7.9" fill="url(#gP)"/>
<circle cx="811.8" cy="249.1" r="7.9" fill="url(#gP)"/>
<circle cx="818.6" cy="276.0" r="7.9" fill="url(#gP)"/>
<circle cx="827.4" cy="273.0" r="7.9" fill="url(#gP)"/>
<circle cx="834.7" cy="287.2" r="7.9" fill="url(#gP)"/>
<circle cx="842.2" cy="317.7" r="7.9" fill="url(#gP)"/>
<circle cx="849.7" cy="331.8" r="7.9" fill="url(#gP)"/>
<circle cx="857.2" cy="343.2" r="7.9" fill="url(#gP)"/>
<circle cx="865.5" cy="345.0" r="7.9" fill="url(#gP)"/>
<circle cx="872.2" cy="363.7" r="7.9" fill="url(#gP)"/>
<circle cx="880.0" cy="406.0" r="7.9" fill="url(#gP)"/>
<circle cx="887.8" cy="390.7" r="7.9" fill="url(#gP)"/>
<circle cx="895.2" cy="407.3" r="7.9" fill="url(#gP)"/>
<circle cx="902.7" cy="432.5" r="7.9" fill="url(#gP)"/>
<circle cx="910.2" cy="476.0" r="7.9" fill="url(#gP)"/>
<circle cx="917.7" cy="470.0" r="7.9" fill="url(#gP)"/>
<circle cx="926.0" cy="483.4" r="7.9" fill="url(#gP)"/>
<circle cx="933.4" cy="505.7" r="7.9" fill="url(#gP)"/>
<circle cx="940.7" cy="523.7" r="7.9" fill="url(#gP)"/>
<circle cx="948.3" cy="511.0" r="7.9" fill="url(#gP)"/>
<circle cx="955.7" cy="518.5" r="7.9" fill="url(#gP)"/>
<circle cx="964.0" cy="520.7" r="7.9" fill="url(#gP)"/>
<circle cx="971.5" cy="534.2" r="7.9" fill="url(#gP)"/>
<circle cx="979.0" cy="554.2" r="7.9" fill="url(#gP)"/>
<circle cx="986.5" cy="581.8" r="7.9" fill="url(#gP)"/>
<circle cx="994.3" cy="587.0" r="7.9" fill="url(#gP)"/>
<circle cx="1001.6" cy="603.8" r="7.9" fill="url(#gP)"/>
<circle cx="1009.2" cy="614.2" r="7.9" fill="url(#gP)"/>
<circle cx="1017.1" cy="610.7" r="7.9" fill="url(#gP)"/>
<circle cx="1024.7" cy="639.3" r="7.9" fill="url(#gP)"/>
<circle cx="1031.9" cy="661.9" r="7.9" fill="url(#gP)"/>
<circle cx="1040.0" cy="633.8" r="7.9" fill="url(#gP)"/>
<circle cx="1047.2" cy="651.0" r="7.9" fill="url(#gP)"/>
<circle cx="1054.7" cy="670.7" r="7.9" fill="url(#gP)"/>
<circle cx="1062.6" cy="681.0" r="7.9" fill="url(#gP)"/>
<circle cx="1069.6" cy="710.1" r="7.9" fill="url(#gP)"/>
<circle cx="1077.5" cy="718.6" r="7.9" fill="url(#gP)"/>
<circle cx="1085.8" cy="710.6" r="7.9" fill="url(#gP)"/>
<circle cx="1092.7" cy="724.1" r="7.9" fill="url(#gP)"/>
<circle cx="1100.4" cy="745.6" r="7.9" fill="url(#gP)"/>
<circle cx="1107.7" cy="752.3" r="7.9" fill="url(#gP)"/>
<circle cx="651.9" cy="26.0" r="7.9" fill="url(#gG)"/>
<circle cx="657.5" cy="34.0" r="7.9" fill="url(#gG)"/>
<circle cx="674.2" cy="47.6" r="7.9" fill="url(#gG)"/>
<circle cx="684.0" cy="49.4" r="7.9" fill="url(#gG)"/>
<circle cx="692.0" cy="50.0" r="7.9" fill="url(#gG)"/>
<circle cx="697.0" cy="74.5" r="7.9" fill="url(#gG)"/>
<circle cx="703.5" cy="66.0" r="7.9" fill="url(#gG)"/>
<circle cx="712.5" cy="87.5" r="7.9" fill="url(#gG)"/>
<circle cx="719.8" cy="64.5" r="7.9" fill="url(#gG)"/>
<circle cx="728.0" cy="89.8" r="7.9" fill="url(#gG)"/>
<circle cx="735.5" cy="81.3" r="7.9" fill="url(#gG)"/>
<circle cx="744.0" cy="85.9" r="7.9" fill="url(#gG)"/>
<circle cx="748.3" cy="71.5" r="7.9" fill="url(#gG)"/>
<circle cx="758.4" cy="75.0" r="7.9" fill="url(#gG)"/>
<circle cx="765.7" cy="88.2" r="7.9" fill="url(#gG)"/>
<circle cx="773.2" cy="108.5" r="7.9" fill="url(#gG)"/>
<circle cx="780.5" cy="98.5" r="7.9" fill="url(#gG)"/>
<circle cx="789.0" cy="113.7" r="7.9" fill="url(#gG)"/>
<circle cx="796.2" cy="127.1" r="7.9" fill="url(#gG)"/>
<circle cx="804.1" cy="125.2" r="7.9" fill="url(#gG)"/>
<circle cx="811.5" cy="136.7" r="7.9" fill="url(#gG)"/>
<circle cx="819.1" cy="155.3" r="7.9" fill="url(#gG)"/>
<circle cx="826.6" cy="191.3" r="7.9" fill="url(#gG)"/>
<circle cx="834.6" cy="180.8" r="7.9" fill="url(#gG)"/>
<circle cx="842.1" cy="192.4" r="7.9" fill="url(#gG)"/>
<circle cx="850.0" cy="186.5" r="7.9" fill="url(#gG)"/>
<circle cx="857.3" cy="191.6" r="7.9" fill="url(#gG)"/>
<circle cx="864.8" cy="210.8" r="7.9" fill="url(#gG)"/>
<circle cx="872.1" cy="222.8" r="7.9" fill="url(#gG)"/>
<circle cx="880.2" cy="233.3" r="7.9" fill="url(#gG)"/>
<circle cx="887.7" cy="216.0" r="7.9" fill="url(#gG)"/>
<circle cx="895.0" cy="249.0" r="7.9" fill="url(#gG)"/>
<circle cx="903.3" cy="253.4" r="7.9" fill="url(#gG)"/>
<circle cx="910.6" cy="280.0" r="7.9" fill="url(#gG)"/>
<circle cx="918.0" cy="322.3" r="7.9" fill="url(#gG)"/>
<circle cx="925.8" cy="268.0" r="7.9" fill="url(#gG)"/>
<circle cx="933.3" cy="324.6" r="7.9" fill="url(#gG)"/>
<circle cx="940.8" cy="289.9" r="7.9" fill="url(#gG)"/>
<circle cx="948.3" cy="309.0" r="7.9" fill="url(#gG)"/>
<circle cx="955.9" cy="297.5" r="7.9" fill="url(#gG)"/>
<circle cx="963.4" cy="332.9" r="7.9" fill="url(#gG)"/>
<circle cx="971.2" cy="343.3" r="7.9" fill="url(#gG)"/>
<circle cx="978.7" cy="306.7" r="7.9" fill="url(#gG)"/>
<circle cx="986.2" cy="328.3" r="7.9" fill="url(#gG)"/>
<circle cx="994.2" cy="358.5" r="7.9" fill="url(#gG)"/>
<circle cx="1001.6" cy="326.4" r="7.9" fill="url(#gG)"/>
<circle cx="1009.2" cy="384.8" r="7.9" fill="url(#gG)"/>
<circle cx="1016.6" cy="356.3" r="7.9" fill="url(#gG)"/>
<circle cx="1024.5" cy="408.8" r="7.9" fill="url(#gG)"/>
<circle cx="1032.0" cy="389.0" r="7.9" fill="url(#gG)"/>
<circle cx="1039.6" cy="347.1" r="7.9" fill="url(#gG)"/>
<circle cx="1047.7" cy="381.5" r="7.9" fill="url(#gG)"/>
<circle cx="1056.0" cy="380.7" r="7.9" fill="url(#gG)"/>
<circle cx="1061.0" cy="367.0" r="7.9" fill="url(#gG)"/>
<circle cx="1070.2" cy="414.5" r="7.9" fill="url(#gG)"/>
<circle cx="1077.7" cy="425.7" r="7.9" fill="url(#gG)"/>
<circle cx="1085.2" cy="403.2" r="7.9" fill="url(#gG)"/>
<circle cx="1093.4" cy="405.5" r="7.9" fill="url(#gG)"/>
<circle cx="1100.2" cy="417.5" r="7.9" fill="url(#gG)"/>
<circle cx="1108.4" cy="422.0" r="7.9" fill="url(#gG)"/>
<circle cx="651.9" cy="13.5" r="7.9" fill="url(#gN)"/>
<circle cx="667.1" cy="15.6" r="7.9" fill="url(#gN)"/>
<circle cx="682.3" cy="22.2" r="7.9" fill="url(#gN)"/>
<circle cx="697.6" cy="30.4" r="7.9" fill="url(#gN)"/>
<circle cx="712.8" cy="37.3" r="7.9" fill="url(#gN)"/>
<circle cx="728.0" cy="57.0" r="7.9" fill="url(#gN)"/>
<circle cx="743.2" cy="45.0" r="7.9" fill="url(#gN)"/>
<circle cx="758.4" cy="69.0" r="7.9" fill="url(#gN)"/>
<circle cx="773.7" cy="79.5" r="7.9" fill="url(#gN)"/>
<circle cx="788.9" cy="67.7" r="7.9" fill="url(#gN)"/>
<circle cx="804.1" cy="76.0" r="7.9" fill="url(#gN)"/>
<circle cx="819.3" cy="86.5" r="7.9" fill="url(#gN)"/>
<circle cx="834.5" cy="91.7" r="7.9" fill="url(#gN)"/>
<circle cx="849.8" cy="91.0" r="7.9" fill="url(#gN)"/>
<circle cx="865.0" cy="103.7" r="7.9" fill="url(#gN)"/>
<circle cx="880.2" cy="106.7" r="7.9" fill="url(#gN)"/>
<circle cx="895.4" cy="109.0" r="7.9" fill="url(#gN)"/>
<circle cx="910.6" cy="120.2" r="7.9" fill="url(#gN)"/>
<circle cx="925.9" cy="127.7" r="7.9" fill="url(#gN)"/>
<circle cx="941.1" cy="130.7" r="7.9" fill="url(#gN)"/>
<circle cx="956.3" cy="129.8" r="7.9" fill="url(#gN)"/>
<circle cx="971.5" cy="155.7" r="7.9" fill="url(#gN)"/>
<circle cx="986.7" cy="155.4" r="7.9" fill="url(#gN)"/>
<circle cx="1002.0" cy="165.7" r="7.9" fill="url(#gN)"/>
<circle cx="1017.2" cy="183.0" r="7.9" fill="url(#gN)"/>
<circle cx="1032.4" cy="184.8" r="7.9" fill="url(#gN)"/>
<circle cx="1047.6" cy="202.0" r="7.9" fill="url(#gN)"/>
<circle cx="1062.8" cy="209.9" r="7.9" fill="url(#gN)"/>
<circle cx="1078.1" cy="212.1" r="7.9" fill="url(#gN)"/>
<circle cx="1093.3" cy="224.6" r="7.9" fill="url(#gN)"/>
<circle cx="1108.5" cy="237.5" r="7.9" fill="url(#gN)"/>
<circle cx="651.9" cy="18.7" r="7.9" fill="url(#gO)"/>
<circle cx="667.1" cy="24.0" r="7.9" fill="url(#gO)"/>
<circle cx="682.3" cy="30.9" r="7.9" fill="url(#gO)"/>
<circle cx="697.6" cy="38.7" r="7.9" fill="url(#gO)"/>
<circle cx="712.8" cy="45.7" r="7.9" fill="url(#gO)"/>
<circle cx="728.0" cy="51.7" r="7.9" fill="url(#gO)"/>
<circle cx="743.2" cy="58.2" r="7.9" fill="url(#gO)"/>
<circle cx="758.4" cy="65.2" r="7.9" fill="url(#gO)"/>
<circle cx="773.7" cy="71.7" r="7.9" fill="url(#gO)"/>
<circle cx="788.9" cy="77.7" r="7.9" fill="url(#gO)"/>
<circle cx="804.1" cy="84.2" r="7.9" fill="url(#gO)"/>
<circle cx="819.3" cy="91.7" r="7.9" fill="url(#gO)"/>
<circle cx="834.5" cy="98.5" r="7.9" fill="url(#gO)"/>
<circle cx="849.8" cy="105.2" r="7.9" fill="url(#gO)"/>
<circle cx="865.0" cy="111.7" r="7.9" fill="url(#gO)"/>
<circle cx="880.2" cy="117.7" r="7.9" fill="url(#gO)"/>
<circle cx="895.4" cy="124.7" r="7.9" fill="url(#gO)"/>
<circle cx="910.6" cy="130.7" r="7.9" fill="url(#gO)"/>
<circle cx="925.9" cy="138.2" r="7.9" fill="url(#gO)"/>
<circle cx="941.1" cy="143.1" r="7.9" fill="url(#gO)"/>
<circle cx="956.3" cy="150.2" r="7.9" fill="url(#gO)"/>
<circle cx="971.5" cy="155.7" r="7.9" fill="url(#gO)"/>
<circle cx="986.7" cy="162.3" r="7.9" fill="url(#gO)"/>
<circle cx="1002.0" cy="168.3" r="7.9" fill="url(#gO)"/>
<circle cx="1017.2" cy="175.3" r="7.9" fill="url(#gO)"/>
<circle cx="1032.4" cy="182.2" r="7.9" fill="url(#gO)"/>
<circle cx="1047.6" cy="189.1" r="7.9" fill="url(#gO)"/>
<circle cx="1062.8" cy="197.2" r="7.9" fill="url(#gO)"/>
<circle cx="1078.1" cy="209.0" r="7.9" fill="url(#gO)"/>
<circle cx="1093.3" cy="213.3" r="7.9" fill="url(#gO)"/>
<circle cx="1108.5" cy="219.4" r="7.9" fill="url(#gO)"/>
</g>
<rect x="646.3" y="5.5" width="466.60000000000014" height="771.7" fill="none" stroke="#000" stroke-width="2.7"/>
<text x="558" y="43.2" font-size="45" text-anchor="start" fill="#000" >(b)</text>
<text x="633.3" y="28.2" font-size="36.5" text-anchor="end" fill="#000" >0</text>
<text x="633.3" y="183.4" font-size="36.5" text-anchor="end" fill="#000" >-5</text>
<text x="633.3" y="338.59999999999997" font-size="36.5" text-anchor="end" fill="#000" >-10</text>
<text x="633.3" y="493.79999999999995" font-size="36.5" text-anchor="end" fill="#000" >-15</text>
<text x="633.3" y="648.9999999999999" font-size="36.5" text-anchor="end" fill="#000" >-20</text>
<text x="652.1" y="819" font-size="36.5" text-anchor="middle" fill="#000" >0</text>
<text x="728.135" y="819" font-size="36.5" text-anchor="middle" fill="#000" >5</text>
<text x="804.1700000000001" y="819" font-size="36.5" text-anchor="middle" fill="#000" >10</text>
<text x="880.205" y="819" font-size="36.5" text-anchor="middle" fill="#000" >15</text>
<text x="956.24" y="819" font-size="36.5" text-anchor="middle" fill="#000" >20</text>
<text x="1032.275" y="819" font-size="36.5" text-anchor="middle" fill="#000" >25</text>
<text x="1108.31" y="819" font-size="36.5" text-anchor="middle" fill="#000" >30</text>
<text x="879.4" y="857" font-size="41.8" text-anchor="middle" fill="#000" >Magnetic field (T)</text>
<text transform="translate(568.3,391.6) rotate(-90)" font-size="42" text-anchor="middle"><tspan font-style="italic">ΔE</tspan> (meV)</text>
<text x="977" y="131.5" font-size="41.5">g<tspan font-size="28" dy="10.5">X</tspan><tspan dy="-10.5">=-3.7</tspan></text>
<text x="981" y="282.5" font-size="41.5">g<tspan font-size="28" dy="10.5">T</tspan><tspan dy="-10.5">=-3.7</tspan></text>
<text x="937" y="472" font-size="41.5">g<tspan x="956.6" y="482" font-size="28">T</tspan><tspan x="973.6" y="471" font-size="20.5">D</tspan><tspan x="973.6" y="491.3" font-size="20">E''</tspan><tspan font-size="20" dx="1">(Γ</tspan><tspan font-size="20" dx="0.8">)</tspan><tspan x="1017.6" y="472">=-7.9</tspan></text>
<text x="900" y="740" font-size="41.5">g<tspan font-size="28" dy="10.5">T</tspan><tspan font-size="20" dy="-13">I</tspan><tspan dy="2.5">=-13.8</tspan></text></svg>
</body></html>
